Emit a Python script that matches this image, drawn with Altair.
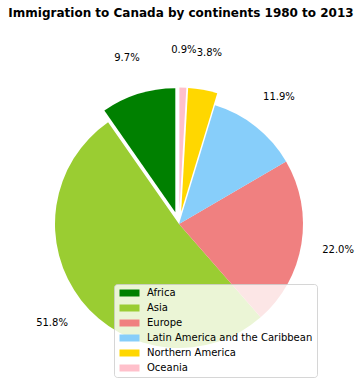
import altair as alt
import pandas as pd

continents = ["Africa", "Asia", "Europe", "Latin America and the Caribbean", "Northern America", "Oceania"]
shares = [9.7, 51.8, 22.0, 11.9, 3.8, 0.9]
explode = [0.1, 0, 0, 0, 0.1, 0.1]
colors = ["#008000", "#9acd32", "#f08080", "#87cefa", "#ffd700", "#ffc0cb"]

df = pd.DataFrame({
    "continent": continents,
    "share": shares,
    "explode": explode,
    "order": list(range(len(continents))),
})

R = 124
CX = 179
CY = 202
PCT = 1.3

base = alt.Chart(df).transform_joinaggregate(
    total="sum(share)"
).transform_window(
    cum="sum(share)", sort=[alt.SortField("order")]
).transform_calculate(
    frac="datum.share / datum.total",
    endf="datum.cum / datum.total",
).transform_calculate(
    t1="2*PI*(1 - datum.endf)",
    t2="2*PI*(1 - datum.endf + datum.frac)",
).transform_calculate(
    mid="(datum.t1 + datum.t2) / 2",
    ex=f"datum.explode * {R}",
).transform_calculate(
    cx=f"{CX} + datum.ex * sin(datum.mid)",
    cy=f"{CY} - datum.ex * cos(datum.mid)",
).transform_calculate(
    lx=f"datum.cx + {R * PCT} * sin(datum.mid)",
    ly=f"datum.cy - {R * PCT} * cos(datum.mid)",
    label="format(datum.share, '.1f') + '%'",
)

arcs = base.mark_arc(radius=R, stroke=None).encode(
    theta=alt.Theta("t1:Q", scale=None),
    theta2="t2:Q",
    x=alt.X("cx:Q", scale=None, axis=None),
    y=alt.Y("cy:Q", scale=None, axis=None),
    color=alt.Color(
        "continent:N",
        scale=alt.Scale(domain=continents, range=colors),
        legend=alt.Legend(
            title=None,
            orient="none",
            legendX=114,
            legendY=262,
            fillColor="rgba(255,255,255,0.8)",
            strokeColor="rgba(204,204,204,0.8)",
            cornerRadius=3,
            padding=4,
            labelFont="DejaVu Sans",
            labelFontSize=10,
            labelColor="#000000",
            labelLimit=400,
            symbolType="M-1,-1H4.714V1H-1Z",
            symbolSize=49,
            symbolStrokeWidth=0,
            symbolOpacity=1,
            rowPadding=5,
            labelOffset=19,
        ),
    ),
)

labels = base.mark_text(
    font="DejaVu Sans", fontSize=10, color="#000000", align="center", baseline="middle"
).encode(
    x=alt.X("lx:Q", scale=None, axis=None),
    y=alt.Y("ly:Q", scale=None, axis=None),
    text="label:N",
)

chart = alt.layer(arcs, labels).properties(
    width=362,
    height=367,
    autosize=alt.AutoSizeParams(type="none"),
    padding={"left": 0, "top": 22, "right": 0, "bottom": 0},
    title=alt.TitleParams(
        "Immigration to Canada by continents 1980 to 2013",
        font="DejaVu Sans",
        fontSize=12,
        fontWeight="bold",
        color="#000000",
        anchor="middle",
        offset=2,
    ),
).configure_view(stroke=None)

chart.save("out.html", embed_options={"renderer": "svg", "actions": False})
